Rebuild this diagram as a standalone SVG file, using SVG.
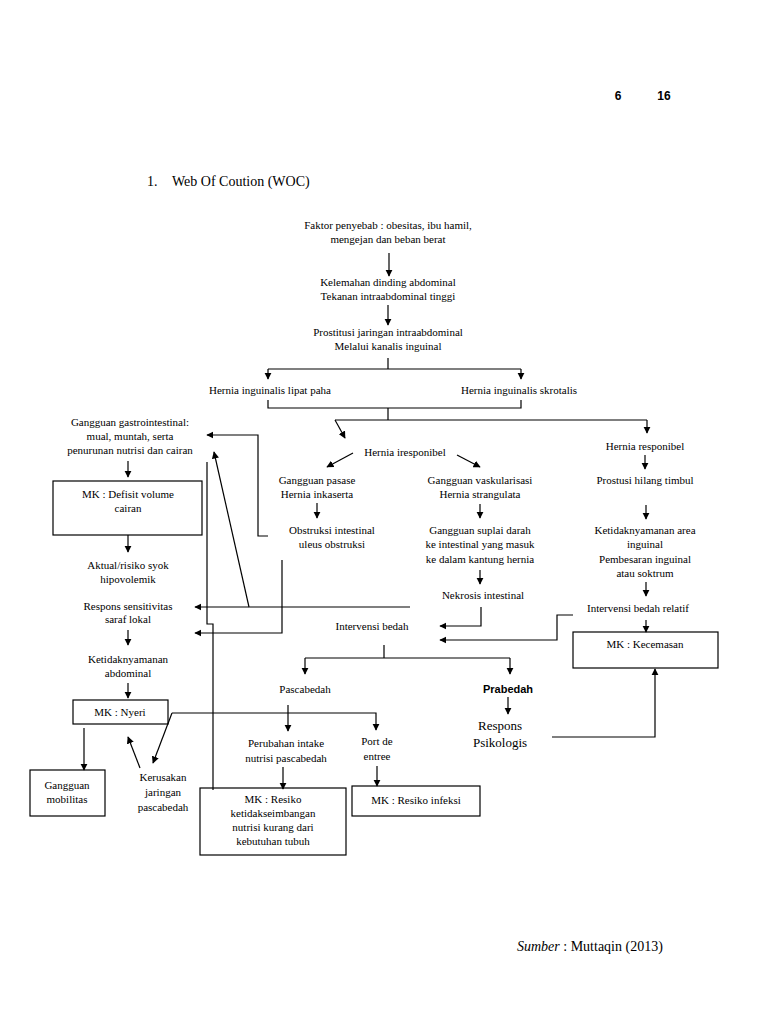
<svg xmlns="http://www.w3.org/2000/svg" width="768" height="1024" viewBox="0 0 768 1024">
<defs>
<marker id="a" viewBox="0 0 10 10" refX="9" refY="5" markerWidth="6" markerHeight="6" orient="auto"><path d="M0,0 L10,5 L0,10 z" fill="#000"/></marker>
<style>
text{font-family:"Liberation Serif",serif;font-size:11px;fill:#000;text-anchor:middle}
.c{stroke:#000;stroke-width:1.2;fill:none}
.ar{stroke:#000;stroke-width:1.2;fill:none;marker-end:url(#a)}
.b{fill:#fff;stroke:#000;stroke-width:1.2}
</style>
</defs>
<rect width="768" height="1024" fill="#fff"/>
<text x="618" y="100" style="font-family:'Liberation Sans',sans-serif;font-weight:bold;font-size:12px">6</text>
<text x="664" y="100" style="font-family:'Liberation Sans',sans-serif;font-weight:bold;font-size:12px">16</text>
<text x="147" y="186" style="text-anchor:start;font-size:14px">1.</text>
<text x="172" y="186" style="text-anchor:start;font-size:14px">Web Of Coution (WOC)</text>

<g id="n-faktor"><text x="388" y="229">Faktor penyebab : obesitas, ibu hamil,</text><text x="388" y="243">mengejan dan beban berat</text></g>
<g id="n-kelemahan"><text x="388" y="286">Kelemahan dinding abdominal</text><text x="388" y="300">Tekanan intraabdominal tinggi</text></g>
<g id="n-prostitusi"><text x="388" y="336">Prostitusi jaringan intraabdominal</text><text x="388" y="350">Melalui kanalis inguinal</text></g>
<g id="n-lipat"><text x="270" y="394">Hernia inguinalis lipat paha</text></g>
<g id="n-skrotalis"><text x="519" y="394">Hernia inguinalis skrotalis</text></g>
<g id="n-iresponibel"><text x="405" y="456">Hernia iresponibel</text></g>
<g id="n-responibel"><text x="645" y="450">Hernia responibel</text></g>
<g id="n-gastro"><text x="130" y="426">Gangguan gastrointestinal:</text><text x="130" y="440">mual, muntah, serta</text><text x="130" y="454">penurunan nutrisi dan cairan</text></g>
<g id="n-defisit"><rect class="b" x="53" y="481" width="149" height="54"/><text x="128" y="498">MK : Defisit volume</text><text x="128" y="512">cairan</text></g>
<g id="n-syok"><text x="128" y="569">Aktual/risiko syok</text><text x="128" y="583">hipovolemik</text></g>
<g id="n-respons"><text x="128" y="610">Respons sensitivitas</text><text x="128" y="623">saraf lokal</text></g>
<g id="n-ketabd"><text x="128" y="663">Ketidaknyamanan</text><text x="128" y="677">abdominal</text></g>
<g id="n-nyeri"><rect class="b" x="73" y="700" width="95" height="24"/><text x="120" y="716">MK : Nyeri</text></g>
<g id="n-mobilitas"><rect class="b" x="30" y="770" width="75" height="46"/><text x="67" y="789">Gangguan</text><text x="67" y="803">mobilitas</text></g>
<g id="n-kerusakan"><text x="163" y="781">Kerusakan</text><text x="163" y="796">jaringan</text><text x="163" y="811">pascabedah</text></g>
<g id="n-pasase"><text x="317" y="484">Gangguan pasase</text><text x="317" y="498">Hernia inkaserta</text></g>
<g id="n-obstruksi"><text x="332" y="534">Obstruksi intestinal</text><text x="332" y="548">uleus obstruksi</text></g>
<g id="n-vaskular"><text x="480" y="484">Gangguan vaskularisasi</text><text x="480" y="498">Hernia strangulata</text></g>
<g id="n-suplai"><text x="480" y="534">Gangguan suplai darah</text><text x="480" y="548">ke intestinal yang masuk</text><text x="480" y="563">ke dalam kantung hernia</text></g>
<g id="n-nekrosis"><text x="483" y="599">Nekrosis intestinal</text></g>
<g id="n-prostusi"><text x="645" y="484">Prostusi hilang timbul</text></g>
<g id="n-ketarea"><text x="645" y="534">Ketidaknyamanan area</text><text x="645" y="548">inguinal</text><text x="645" y="563">Pembesaran inguinal</text><text x="645" y="577">atau soktrum</text></g>
<g id="n-relatif"><text x="638" y="612">Intervensi bedah relatif</text></g>
<g id="n-kecemasan"><rect class="b" x="573" y="632" width="145" height="36"/><text x="645" y="648">MK : Kecemasan</text></g>
<g id="n-intervensi"><text x="372" y="630">Intervensi bedah</text></g>
<g id="n-pascabedah"><text x="305" y="693">Pascabedah</text></g>
<g id="n-prabedah"><text x="508" y="693" style="font-family:'Liberation Sans',sans-serif;font-weight:bold;font-size:11px">Prabedah</text></g>
<g id="n-psikologis"><text x="500" y="730" style="font-size:13px">Respons</text><text x="500" y="747" style="font-size:13px">Psikologis</text></g>
<g id="n-perubahan"><text x="286" y="747">Perubahan intake</text><text x="286" y="762">nutrisi pascabedah</text></g>
<g id="n-port"><text x="377" y="745">Port de</text><text x="377" y="760">entree</text></g>
<g id="n-nutrisi"><rect class="b" x="200" y="788" width="146" height="67"/><text x="273" y="803">MK : Resiko</text><text x="273" y="817">ketidakseimbangan</text><text x="273" y="831">nutrisi kurang dari</text><text x="273" y="845">kebutuhan tubuh</text></g>
<g id="n-infeksi"><rect class="b" x="352" y="786" width="128" height="30"/><text x="416" y="804">MK : Resiko infeksi</text></g>

<g id="connectors">
<line class="ar" x1="389" y1="253" x2="389" y2="276"/>
<line class="ar" x1="388" y1="305" x2="388" y2="325"/>
<path class="c" d="M388,358 V369 M268,369 H521"/>
<line class="ar" x1="268" y1="369" x2="268" y2="379"/>
<line class="ar" x1="521" y1="369" x2="521" y2="379"/>
<path class="c" d="M268,400 V408 H521 V400 M388,408 V420 M335,420 H647"/>
<line class="ar" x1="335" y1="420" x2="345" y2="438"/>
<line class="ar" x1="647" y1="420" x2="647" y2="433"/>
<line class="ar" x1="353" y1="453" x2="327" y2="467"/>
<line class="ar" x1="457" y1="455" x2="480" y2="467"/>
<line class="ar" x1="317" y1="503" x2="317" y2="518"/>
<line class="ar" x1="480" y1="504" x2="480" y2="518"/>
<line class="ar" x1="480" y1="570" x2="480" y2="584"/>
<line class="ar" x1="645" y1="455" x2="645" y2="469"/>
<line class="ar" x1="646" y1="505" x2="646" y2="519"/>
<line class="ar" x1="646" y1="582" x2="646" y2="596"/>
<line class="ar" x1="646" y1="620" x2="646" y2="632"/>
<polyline class="ar" points="268,536 258,536 258,435 207,435"/>
<line class="ar" x1="128" y1="461" x2="128" y2="477"/>
<line class="ar" x1="128" y1="535" x2="128" y2="552"/>
<line class="ar" x1="128" y1="630" x2="128" y2="645"/>
<line class="ar" x1="128" y1="683" x2="128" y2="698"/>
<polyline class="c" points="207,462 207,624 213,624 213,790"/>
<line class="ar" x1="249" y1="607" x2="214" y2="452"/>
<line class="ar" x1="410" y1="607" x2="195" y2="607"/>
<polyline class="ar" points="282,560 282,633 195,633"/>
<polyline class="ar" points="481,607 481,626 440,626"/>
<polyline class="ar" points="573,615 557,615 557,640 440,640"/>
<path class="c" d="M384,645 V658 M305,658 H510"/>
<line class="ar" x1="305" y1="658" x2="305" y2="674"/>
<line class="ar" x1="510" y1="658" x2="510" y2="674"/>
<line class="ar" x1="288" y1="705" x2="288" y2="731"/>
<line class="ar" x1="283" y1="767" x2="283" y2="789"/>
<line class="ar" x1="508" y1="697" x2="508" y2="714"/>
<polyline class="ar" points="552,737 655,737 655,669"/>
<polyline class="ar" points="172,713 376,713 376,730"/>
<line class="ar" x1="172" y1="713" x2="153" y2="763"/>
<line class="ar" x1="377" y1="766" x2="377" y2="786"/>
<line class="ar" x1="84" y1="728" x2="84" y2="770"/>
<line class="ar" x1="140" y1="768" x2="128" y2="737"/>
</g>
<text x="517" y="951" style="text-anchor:start;font-size:14px"><tspan font-style="italic">Sumber</tspan> : Muttaqin (2013)</text>
</svg>
